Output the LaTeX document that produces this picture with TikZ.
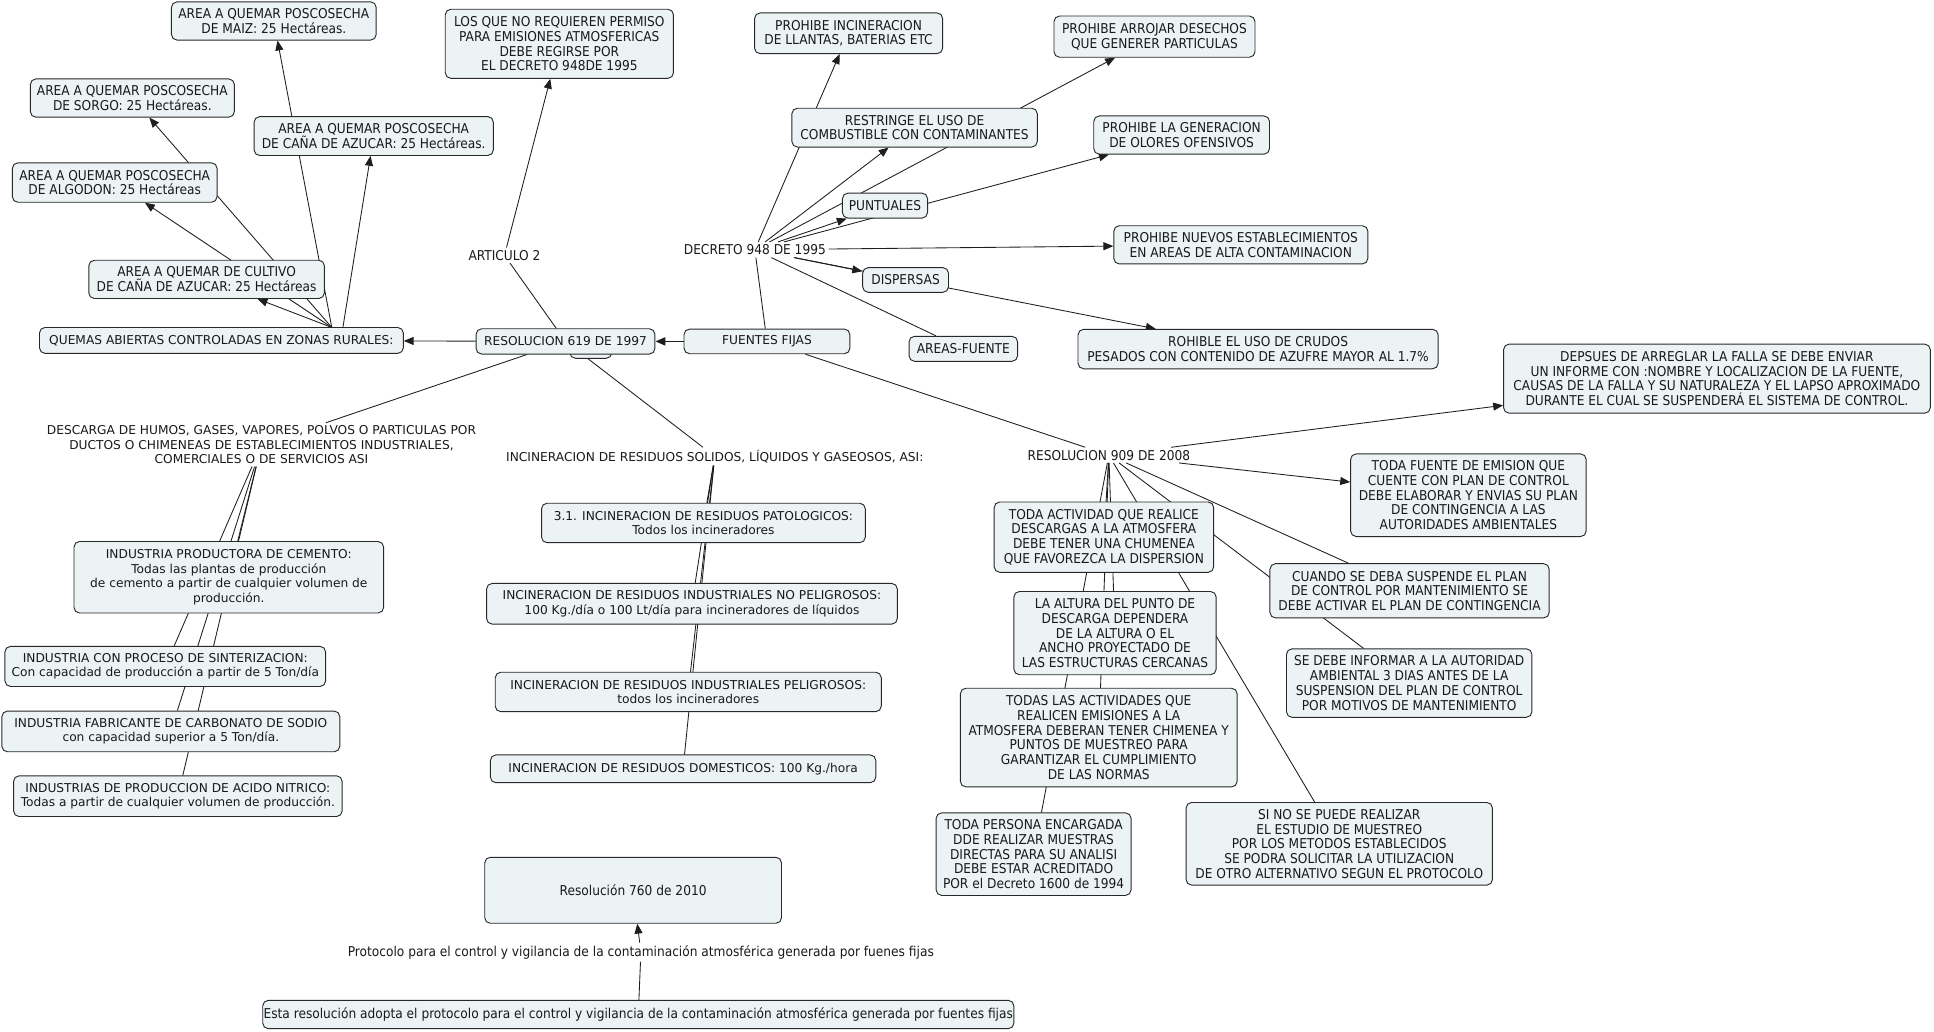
\documentclass[tikz,border=0pt]{standalone}
\usepackage{fontspec}
\setmainfont{DejaVu Sans}
\newfontfamily\tah{DejaVu Sans Condensed}
\usetikzlibrary{arrows.meta,backgrounds}
\definecolor{bx}{RGB}{236,243,245}
\definecolor{bd}{RGB}{40,40,40}
\definecolor{tx}{RGB}{25,25,25}
\definecolor{ln}{RGB}{30,30,30}
\tikzset{
  box/.style={draw=bd, fill=bx, rounded corners=4.5pt, line width=0.75pt, inner sep=0pt, align=center, text=tx},
  vt/.style={font=\fontsize{9.9}{11.8}\selectfont},
  tt/.style={font=\tah\fontsize{11}{11.9}\selectfont},
  lbl/.style={inner sep=2pt, align=center, text=tx},
  con/.style={draw=ln, line width=0.7pt},
  arr/.style={con, -{Triangle[length=8pt,width=6.5pt]}},
  sz/.style 2 args={minimum width=#1pt, minimum height=#2pt},
}
\begin{document}
\begin{tikzpicture}[x=1pt,y=-1pt]
\useasboundingbox (0,0) rectangle (1568,836.7);

% ---- left: quemas group
\node[box,tt,sz={166}{31}] (maiz) at (222,17) {AREA A QUEMAR POSCOSECHA\\DE MAIZ: 25 Hectáreas.};
\node[box,tt,sz={165.4}{31}] (sorgo) at (107.3,79.5) {AREA A QUEMAR POSCOSECHA\\DE SORGO: 25 Hectáreas.};
\node[box,tt,sz={194}{31.5}] (cana) at (303,110.3) {AREA A QUEMAR POSCOSECHA\\DE CAÑA DE AZUCAR: 25 Hectáreas.};
\node[box,tt,sz={166}{32}] (algodon) at (93,148) {AREA A QUEMAR POSCOSECHA\\DE ALGODON: 25 Hectáreas};
\node[box,tt,sz={191}{31}] (cultivo) at (167.5,226.5) {AREA A QUEMAR DE CULTIVO\\DE CAÑA DE AZUCAR: 25 Hectáreas};
\node[box,vt,sz={295}{21}] (quemas) at (179.5,276) {QUEMAS ABIERTAS CONTROLADAS EN ZONAS RURALES:};
\coordinate (jq) at (269,265.5);
\coordinate (jq2) at (278,265.5);

% ---- centre
\node[box,tt,sz={185}{56}] (losque) at (453.5,35.5) {LOS QUE NO REQUIEREN PERMISO\\PARA EMISIONES ATMOSFERICAS\\DEBE REGIRSE POR\\EL DECRETO 948DE 1995};
\node[lbl,tt] (art) at (409,207) {ARTICULO 2};
\node[box,sz={34}{14}] (hid) at (479,283.5) {};
\node[box,vt,sz={145}{20.5}] (res619) at (458.5,276.8) {RESOLUCION 619 DE 1997};
\node[box,vt,sz={134.5}{20}] (fuentes) at (621.8,276.8) {FUENTES FIJAS};
\node[lbl,vt] (descarga) at (212,360.5) {DESCARGA DE HUMOS, GASES, VAPORES, POLVOS O PARTICULAS POR\\DUCTOS O CHIMENEAS DE ESTABLECIMIENTOS INDUSTRIALES,\\COMERCIALES O DE SERVICIOS ASI};
\node[lbl,vt] (incin) at (579.5,370) {INCINERACION DE RESIDUOS SOLIDOS, LÍQUIDOS Y GASEOSOS, ASI:};

\node[box,vt,sz={251}{58}] (prod) at (185.5,468) {INDUSTRIA PRODUCTORA DE CEMENTO:\\Todas las plantas de producción\\de cemento a partir de cualquier volumen de\\producción.};
\node[box,vt,sz={260}{32.5}] (sint) at (134,540.3) {INDUSTRIA CON PROCESO DE SINTERIZACION:\\Con capacidad de producción a partir de 5 Ton/día};
\node[box,vt,sz={274}{33}] (carb) at (138.5,593) {INDUSTRIA FABRICANTE DE CARBONATO DE SODIO\\con capacidad superior a 5 Ton/día.};
\node[box,vt,sz={266.4}{33}] (acido) at (144.2,645.5) {INDUSTRIAS DE PRODUCCION DE ACIDO NITRICO:\\Todas a partir de cualquier volumen de producción.};

\node[box,vt,sz={262.5}{32}] (p31) at (570.3,424) {3.1. INCINERACION DE RESIDUOS PATOLOGICOS:\\Todos los incineradores};
\node[box,vt,sz={333}{33}] (nopel) at (561,489.5) {INCINERACION DE RESIDUOS INDUSTRIALES NO PELIGROSOS:\\100 Kg./día o 100 Lt/día para incineradores de líquidos};
\node[box,vt,sz={313}{32}] (pel) at (558,561) {INCINERACION DE RESIDUOS INDUSTRIALES PELIGROSOS:\\todos los incineradores};
\node[box,vt,sz={312.5}{22.5}] (dom) at (553.8,623.3) {INCINERACION DE RESIDUOS DOMESTICOS: 100 Kg./hora};

% ---- decreto group
\node[lbl,tt] (decreto) at (612,202.5) {DECRETO 948 DE 1995};
\node[box,tt,sz={152.5}{33}] (pinc) at (688,27) {PROHIBE INCINERACION\\DE LLANTAS, BATERIAS ETC};
\node[box,tt,sz={163}{33.4}] (parr) at (936,29.7) {PROHIBE ARROJAR DESECHOS\\QUE GENERER PARTICULAS};
\node[box,tt,sz={199}{31.5}] (restr) at (741.5,103.5) {RESTRINGE EL USO DE\\COMBUSTIBLE CON CONTAMINANTES};
\node[box,tt,sz={142.5}{31}] (pgen) at (958,109.5) {PROHIBE LA GENERACION\\DE OLORES OFENSIVOS};
\node[box,tt,sz={69}{20.3}] (punt) at (717.5,166.7) {PUNTUALES};
\node[box,tt,sz={206}{31}] (pnuev) at (1006,198.5) {PROHIBE NUEVOS ESTABLECIMIENTOS\\EN AREAS DE ALTA CONTAMINACION};
\node[box,tt,sz={69.6}{20}] (disp) at (734.2,227) {DISPERSAS};
\node[box,tt,sz={88}{20.3}] (areas) at (781,282.8) {AREAS-FUENTE};
\node[box,tt,sz={292}{32}] (rohible) at (1020,283) {ROHIBLE EL USO DE CRUDOS\\PESADOS CON CONTENIDO DE AZUFRE MAYOR AL 1.7\%};

% ---- resolucion 909 group
\node[lbl,tt] (r909) at (899,369) {RESOLUCION 909 DE 2008};
\node[box,tt,sz={346}{56}] (depsues) at (1392,307) {DEPSUES DE ARREGLAR LA FALLA SE DEBE ENVIAR\\UN INFORME CON :NOMBRE Y LOCALIZACION DE LA FUENTE,\\CAUSAS DE LA FALLA Y SU NATURALEZA Y EL LAPSO APROXIMADO\\DURANTE EL CUAL SE SUSPENDERÁ EL SISTEMA DE CONTROL.};
\node[box,tt,sz={191}{67}] (tfuente) at (1190.5,401.5) {TODA FUENTE DE EMISION QUE\\CUENTE CON PLAN DE CONTROL\\DEBE ELABORAR Y ENVIAS SU PLAN\\DE CONTINGENCIA A LAS\\AUTORIDADES AMBIENTALES};
\node[box,tt,sz={178}{57}] (tact) at (895,435.5) {TODA ACTIVIDAD QUE REALICE\\DESCARGAS A LA ATMOSFERA\\DEBE TENER UNA CHUMENEA\\QUE FAVOREZCA LA DISPERSION};
\node[box,tt,sz={226.4}{44}] (cuando) at (1142.8,479) {CUANDO SE DEBA SUSPENDE EL PLAN\\DE CONTROL POR MANTENIMIENTO SE\\DEBE ACTIVAR EL PLAN DE CONTINGENCIA};
\node[box,tt,sz={164}{67.5}] (altura) at (904,513.3) {LA ALTURA DEL PUNTO DE\\DESCARGA DEPENDERA\\DE LA ALTURA O EL\\ANCHO PROYECTADO DE\\LAS ESTRUCTURAS CERCANAS};
\node[box,tt,sz={199}{55.5}] (sedebe) at (1142.5,553.8) {SE DEBE INFORMAR A LA AUTORIDAD\\AMBIENTAL 3 DIAS ANTES DE LA\\SUSPENSION DEL PLAN DE CONTROL\\POR MOTIVOS DE MANTENIMIENTO};
\node[box,tt,sz={224.4}{80}] (todas) at (890.8,598) {TODAS LAS ACTIVIDADES QUE\\REALICEN EMISIONES A LA\\ATMOSFERA DEBERAN TENER CHIMENEA Y\\PUNTOS DE MUESTREO PARA\\GARANTIZAR EL CUMPLIMIENTO\\DE LAS NORMAS};
\node[box,tt,sz={158}{67}] (persona) at (838,692.5) {TODA PERSONA ENCARGADA\\DDE REALIZAR MUESTRAS\\DIRECTAS PARA SU ANALISI\\DEBE ESTAR ACREDITADO\\POR el Decreto 1600 de 1994};
\node[box,tt,sz={248.4}{67}] (sino) at (1085.8,684.1) {SI NO SE PUEDE REALIZAR\\EL ESTUDIO DE MUESTREO\\POR LOS METODOS ESTABLECIDOS\\SE PODRA SOLICITAR LA UTILIZACION\\DE OTRO ALTERNATIVO SEGUN EL PROTOCOLO};

% ---- bottom
\node[box,tt,sz={240.6}{53.5}] (r760) at (513.3,721.8) {Resolución 760 de 2010};
\node[lbl,tt] (proto) at (519.6,772) {Protocolo para el control y vigilancia de la contaminación atmosférica generada por fuenes fijas};
\node[box,tt,sz={609}{23}] (esta) at (517.5,822.5) {Esta resolución adopta el protocolo para el control y vigilancia de la contaminación atmosférica generada por fuentes fijas};

\begin{pgfonlayer}{background}
  % quemas
  \draw[arr] (jq) -- (maiz);
  \draw[arr] (jq2) -- (cana);
  \draw[arr] (jq) -- (cultivo);
  \draw[arr] (jq) -- (algodon);
  \draw[arr] (jq) -- (sorgo);
  \draw[arr] (res619) -- (quemas);
  \draw[arr,line width=1.4pt] (fuentes) -- (res619);
  % res 619
  \draw[con] (res619) -- (art);
  \draw[arr] (art) -- (losque);
  \draw[con] (res619) -- (descarga);
  \draw[con] (res619) -- (incin);
  \foreach \t in {prod,sint,carb,acido} \draw[con] (descarga) -- (\t);
  \foreach \t in {p31,nopel,pel,dom} \draw[con] (incin) -- (\t);
  % decreto
  \draw[con] (fuentes) -- (decreto);
  \foreach \t in {pinc,restr,parr,punt,pgen,pnuev,disp,rohible} \draw[arr] (decreto) -- (\t);
  \draw[con] (decreto) -- (areas);
  % 909
  \draw[con] (fuentes) -- (r909);
  \draw[arr] (r909) -- (depsues);
  \draw[arr] (r909) -- (tfuente);
  \foreach \t in {tact,altura,todas,persona,sino,cuando,sedebe} \draw[con] (r909) -- (\t);
  % bottom
  \draw[arr] (proto) -- (r760);
  \draw[con] (esta) -- (proto);
\end{pgfonlayer}
\end{tikzpicture}
\end{document}
